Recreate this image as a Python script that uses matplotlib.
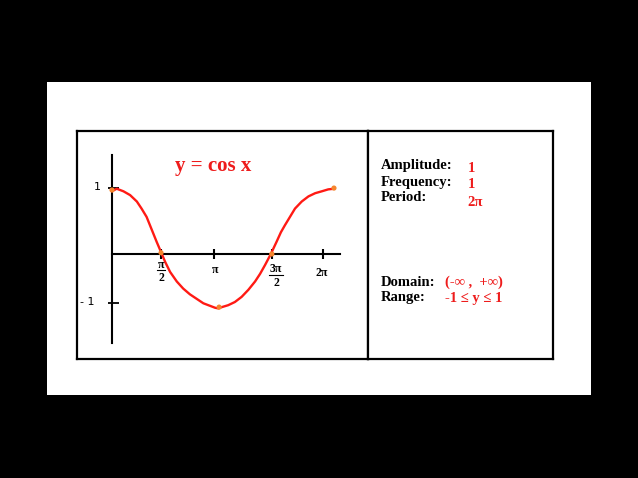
import numpy as np
import matplotlib
matplotlib.use("Agg")
import matplotlib.pyplot as plt
from matplotlib.patches import Rectangle
from matplotlib.lines import Line2D

W, H = 638, 478

# curve (x in radians, y in units of the axis)
curve_x = [0.0, 0.14, 0.34, 0.54, 0.74, 0.88, 1.03, 1.13, 1.23, 1.33, 1.46, 1.58,
           1.73, 1.93, 2.12, 2.32, 2.52, 2.72, 2.92, 3.07, 3.17, 3.27, 3.46, 3.66,
           3.86, 4.06, 4.26, 4.41, 4.56, 4.73, 4.90, 5.03, 5.15, 5.30, 5.45, 5.65,
           5.85, 6.05, 6.25, 6.44, 6.62]
curve_y = [0.98, 1.02, 0.98, 0.92, 0.82, 0.71, 0.58, 0.45, 0.32, 0.19, 0.03, -0.12,
           -0.28, -0.43, -0.54, -0.63, -0.70, -0.77, -0.81, -0.84, -0.85, -0.83, -0.80, -0.75,
           -0.67, -0.56, -0.43, -0.31, -0.17, 0.0, 0.19, 0.34, 0.45, 0.58, 0.71, 0.82,
           0.90, 0.95, 0.98, 1.01, 1.02]

# marked points
dot_x = [0.0, 1.46, 3.19, 4.76, 6.61]
dot_y = [1.0, 0.02, -0.83, 0.0, 1.03]

# ticks as drawn
xtick_pos = [1.46, 3.04, 4.76, 6.28]
ytick_pos = [1.03, -0.77]

info_labels = ["Amplitude:", "Frequency:", "Period:"]
info_values = ["1", "1", "2π"]
dom_labels = ["Domain:", "Range:"]
dom_values = ["(-∞ ,  +∞)", "-1 ≤ y ≤ 1"]

RED = "#ee1c1c"
SERIF = ["Liberation Serif", "DejaVu Serif"]


def fx(px):
    return px / W


def fy(py):
    return 1 - py / H


def box(x0, y0, x1, y1):
    return [fx(x0), fy(y1), fx(x1) - fx(x0), fy(y0) - fy(y1)]


fig = plt.figure(figsize=(W / 100, H / 100), dpi=100, facecolor="black")

# white slide
fig.patches.append(Rectangle((fx(47), fy(395)), fx(591) - fx(47), fy(82) - fy(395),
                             transform=fig.transFigure, facecolor="white", edgecolor="none", zorder=-5))

# left box with the graph
ax = fig.add_axes(box(77, 131, 368, 359))
ax.set_facecolor("white")
for s in ax.spines.values():
    s.set_linewidth(1.6)
    s.set_color("black")
ax.set_xticks([])
ax.set_yticks([])
ax.set_xlim((77 - 112) / 33.58, (368 - 112) / 33.58)
ax.set_ylim((254 - 359) / 64, (254 - 131) / 64)

ax.plot([0, 0], [1.55, -1.39], color="black", lw=1.5)
ax.plot([0, 6.79], [0, 0], color="black", lw=1.5)
ax.vlines(xtick_pos, -0.08, 0.08, color="black", lw=1.5)
ax.hlines(ytick_pos, -0.12, 0.2, color="black", lw=1.3)

ax.plot(curve_x, curve_y, color="#ff1a14", lw=1.7, solid_capstyle="round",
        solid_joinstyle="round", zorder=3)
ax.scatter(dot_x, dot_y, s=14, color="#f5862e", zorder=4, edgecolors="none")

fig.text(fx(213), fy(166), "y = cos x", color=RED, fontsize=15, fontweight="bold",
         family=SERIF, ha="center", va="center")

# hand written 1 and -1
fig.text(fx(97), fy(187), "1", fontsize=8, ha="center", va="center", family="DejaVu Sans")
fig.text(fx(87), fy(302), "- 1", fontsize=8, ha="center", va="center", family="DejaVu Sans")

# x tick labels
lab = dict(fontsize=8.5, fontweight="bold", family=SERIF, ha="center", va="center")
fig.text(fx(161), fy(265.5), "π", **lab)
fig.add_artist(Line2D([fx(157), fx(165)], [fy(270), fy(270)], color="black", lw=0.8))
fig.text(fx(161), fy(278), "2", **lab)
fig.text(fx(215.5), fy(270), "π", **lab)
fig.text(fx(276), fy(269), "3π", **lab)
fig.add_artist(Line2D([fx(269), fx(283)], [fy(274.5), fy(274.5)], color="black", lw=0.8))
fig.text(fx(276), fy(283), "2", **lab)
fig.text(fx(322), fy(273), "2π", **lab)

# right box
ax2 = fig.add_axes(box(368, 131, 553, 359))
ax2.set_facecolor("white")
for s in ax2.spines.values():
    s.set_linewidth(1.6)
    s.set_color("black")
ax2.set_xticks([])
ax2.set_yticks([])

txt = dict(fontsize=10.5, fontweight="bold", family=SERIF, va="baseline", ha="left")
for lbl, py in zip(info_labels, [169.5, 185.5, 201]):
    fig.text(fx(381), fy(py), lbl, color="black", **txt)
for val, py in zip(info_values, [172, 187.5, 206]):
    fig.text(fx(467.5), fy(py), val, color=RED, **txt)
for lbl, py in zip(dom_labels, [286, 301]):
    fig.text(fx(381), fy(py), lbl, color="black", **txt)
for val, py in zip(dom_values, [286, 302]):
    fig.text(fx(445), fy(py), val, color=RED, **txt)

fig.savefig("out.png", dpi=100, facecolor="black")
